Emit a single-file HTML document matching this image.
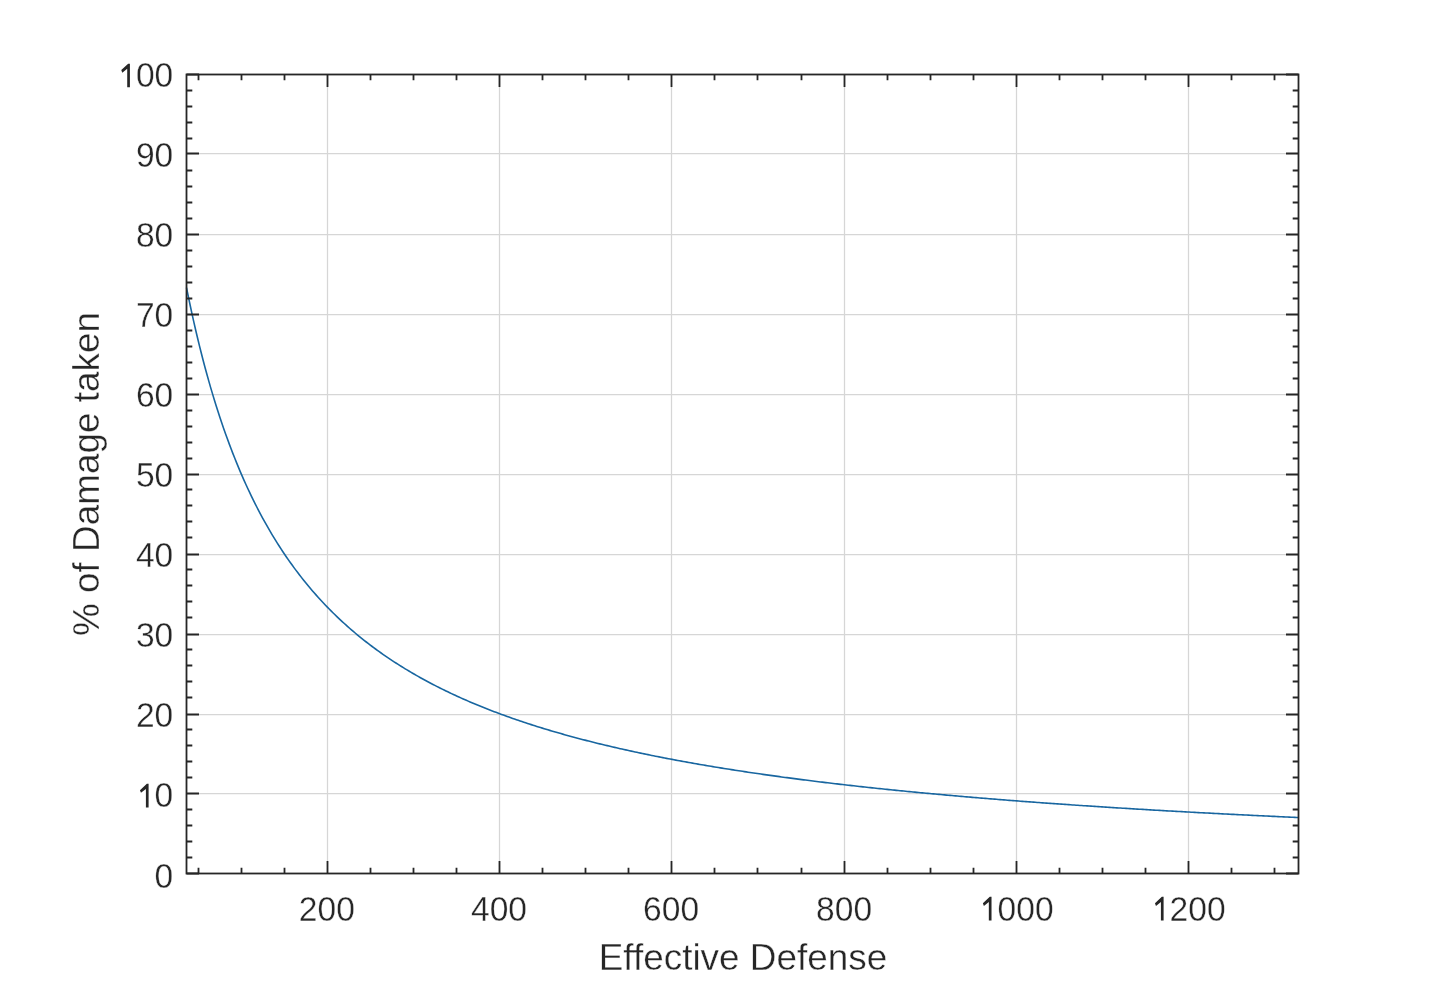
<!DOCTYPE html>
<html><head><meta charset="utf-8"><style>
html,body{margin:0;padding:0;background:#fff;}
body{width:1435px;height:982px;overflow:hidden;font-family:"Liberation Sans",sans-serif;}
svg{position:absolute;left:0;top:0;display:block;will-change:transform;}
</style></head><body>
<svg width="1435" height="982" viewBox="0 0 1435 982">
<path d="M327.50 74.50V873.50M499.50 74.50V873.50M671.50 74.50V873.50M844.50 74.50V873.50M1016.50 74.50V873.50M1188.50 74.50V873.50M186.50 793.50H1298.50M186.50 714.50H1298.50M186.50 634.50H1298.50M186.50 554.50H1298.50M186.50 474.50H1298.50M186.50 394.50H1298.50M186.50 314.50H1298.50M186.50 234.50H1298.50M186.50 153.50H1298.50" stroke="#d6d6d6" stroke-width="1.25" fill="none"/>
<polyline points="186.50,287.60 188.35,296.71 190.21,305.53 192.06,314.09 193.91,322.39 195.77,330.46 197.62,338.28 199.47,345.89 201.33,353.29 203.18,360.47 205.03,367.47 206.89,374.27 208.74,380.90 210.59,387.35 212.45,393.63 214.30,399.76 216.15,405.73 218.01,411.55 219.86,417.22 221.71,422.76 223.57,428.17 225.42,433.45 227.27,438.60 229.13,443.64 230.98,448.56 232.83,453.37 234.69,458.07 236.54,462.67 238.39,467.17 240.25,471.57 242.10,475.87 243.95,480.08 245.81,484.21 247.66,488.25 249.51,492.21 251.37,496.08 253.22,499.88 255.07,503.60 256.93,507.25 258.78,510.83 260.63,514.34 262.49,517.78 264.34,521.16 266.19,524.47 268.05,527.72 269.90,530.91 271.75,534.04 273.61,537.12 275.46,540.14 277.31,543.11 279.17,546.02 281.02,548.89 282.87,551.70 284.73,554.47 286.58,557.18 288.43,559.86 290.29,562.48 292.14,565.07 293.99,567.61 295.85,570.11 297.70,572.57 299.55,574.99 301.41,577.37 303.26,579.71 305.11,582.02 306.97,584.29 308.82,586.53 310.67,588.73 312.53,590.90 314.38,593.03 316.23,595.13 318.09,597.21 319.94,599.25 321.79,601.26 323.65,603.24 325.50,605.19 327.35,607.12 329.21,609.02 331.06,610.89 332.91,612.73 334.77,614.55 336.62,616.34 338.47,618.11 340.33,619.86 342.18,621.58 344.03,623.28 345.89,624.95 347.74,626.61 349.59,628.24 351.45,629.85 353.30,631.44 355.15,633.00 357.01,634.55 358.86,636.08 360.71,637.59 362.57,639.08 364.42,640.55 366.27,642.00 368.13,643.44 369.98,644.85 371.83,646.25 373.69,647.64 375.54,649.00 377.39,650.35 379.25,651.68 381.10,653.00 382.95,654.30 384.81,655.59 386.66,656.86 388.51,658.12 390.37,659.36 392.22,660.59 394.07,661.80 395.93,663.00 397.78,664.19 399.63,665.36 401.49,666.53 403.34,667.67 405.19,668.81 407.05,669.93 408.90,671.04 410.75,672.14 412.61,673.22 414.46,674.30 416.31,675.36 418.17,676.41 420.02,677.46 421.87,678.49 423.73,679.50 425.58,680.51 427.43,681.51 429.29,682.50 431.14,683.48 432.99,684.44 434.85,685.40 436.70,686.35 438.55,687.29 440.41,688.22 442.26,689.14 444.11,690.05 445.97,690.95 447.82,691.84 449.67,692.73 451.53,693.61 453.38,694.47 455.23,695.33 457.09,696.18 458.94,697.03 460.79,697.86 462.65,698.69 464.50,699.51 466.35,700.32 468.21,701.12 470.06,701.92 471.91,702.71 473.77,703.49 475.62,704.27 477.47,705.03 479.33,705.80 481.18,706.55 483.03,707.30 484.89,708.04 486.74,708.77 488.59,709.50 490.45,710.22 492.30,710.94 494.15,711.64 496.01,712.35 497.86,713.04 499.71,713.73 501.57,714.42 503.42,715.10 505.27,715.77 507.13,716.44 508.98,717.10 510.83,717.76 512.69,718.41 514.54,719.05 516.39,719.69 518.25,720.33 520.10,720.96 521.95,721.58 523.81,722.20 525.66,722.81 527.51,723.42 529.37,724.03 531.22,724.63 533.07,725.22 534.93,725.81 536.78,726.40 538.63,726.98 540.49,727.55 542.34,728.12 544.19,728.69 546.05,729.25 547.90,729.81 549.75,730.37 551.61,730.92 553.46,731.46 555.31,732.00 557.17,732.54 559.02,733.07 560.87,733.60 562.73,734.13 564.58,734.65 566.43,735.17 568.29,735.68 570.14,736.19 571.99,736.70 573.85,737.20 575.70,737.70 577.55,738.19 579.41,738.68 581.26,739.17 583.11,739.66 584.97,740.14 586.82,740.61 588.67,741.09 590.53,741.56 592.38,742.03 594.23,742.49 596.09,742.95 597.94,743.41 599.79,743.86 601.65,744.31 603.50,744.76 605.35,745.21 607.21,745.65 609.06,746.09 610.91,746.52 612.77,746.96 614.62,747.39 616.47,747.81 618.33,748.24 620.18,748.66 622.03,749.08 623.89,749.49 625.74,749.90 627.59,750.31 629.45,750.72 631.30,751.13 633.15,751.53 635.01,751.93 636.86,752.33 638.71,752.72 640.57,753.11 642.42,753.50 644.27,753.89 646.13,754.27 647.98,754.65 649.83,755.03 651.69,755.41 653.54,755.78 655.39,756.16 657.25,756.53 659.10,756.89 660.95,757.26 662.81,757.62 664.66,757.98 666.51,758.34 668.37,758.70 670.22,759.05 672.07,759.40 673.93,759.75 675.78,760.10 677.63,760.44 679.49,760.79 681.34,761.13 683.19,761.47 685.05,761.80 686.90,762.14 688.75,762.47 690.61,762.80 692.46,763.13 694.31,763.46 696.17,763.79 698.02,764.11 699.87,764.43 701.73,764.75 703.58,765.07 705.43,765.38 707.29,765.70 709.14,766.01 710.99,766.32 712.85,766.63 714.70,766.93 716.55,767.24 718.41,767.54 720.26,767.84 722.11,768.14 723.97,768.44 725.82,768.74 727.67,769.03 729.53,769.33 731.38,769.62 733.23,769.91 735.09,770.20 736.94,770.48 738.79,770.77 740.65,771.05 742.50,771.33 744.35,771.61 746.21,771.89 748.06,772.17 749.91,772.45 751.77,772.72 753.62,772.99 755.47,773.26 757.33,773.53 759.18,773.80 761.03,774.07 762.89,774.34 764.74,774.60 766.59,774.86 768.45,775.12 770.30,775.38 772.15,775.64 774.01,775.90 775.86,776.16 777.71,776.41 779.57,776.66 781.42,776.92 783.27,777.17 785.13,777.42 786.98,777.66 788.83,777.91 790.69,778.16 792.54,778.40 794.39,778.64 796.25,778.88 798.10,779.13 799.95,779.36 801.81,779.60 803.66,779.84 805.51,780.08 807.37,780.31 809.22,780.54 811.07,780.78 812.93,781.01 814.78,781.24 816.63,781.47 818.49,781.69 820.34,781.92 822.19,782.14 824.05,782.37 825.90,782.59 827.75,782.81 829.61,783.04 831.46,783.25 833.31,783.47 835.17,783.69 837.02,783.91 838.87,784.12 840.73,784.34 842.58,784.55 844.43,784.76 846.29,784.98 848.14,785.19 849.99,785.40 851.85,785.61 853.70,785.81 855.55,786.02 857.41,786.23 859.26,786.43 861.11,786.63 862.97,786.84 864.82,787.04 866.67,787.24 868.53,787.44 870.38,787.64 872.23,787.84 874.09,788.03 875.94,788.23 877.79,788.43 879.65,788.62 881.50,788.81 883.35,789.01 885.21,789.20 887.06,789.39 888.91,789.58 890.77,789.77 892.62,789.96 894.47,790.14 896.33,790.33 898.18,790.52 900.03,790.70 901.89,790.89 903.74,791.07 905.59,791.25 907.45,791.43 909.30,791.62 911.15,791.80 913.01,791.98 914.86,792.15 916.71,792.33 918.57,792.51 920.42,792.68 922.27,792.86 924.13,793.04 925.98,793.21 927.83,793.38 929.69,793.56 931.54,793.73 933.39,793.90 935.25,794.07 937.10,794.24 938.95,794.41 940.81,794.57 942.66,794.74 944.51,794.91 946.37,795.08 948.22,795.24 950.07,795.41 951.93,795.57 953.78,795.73 955.63,795.89 957.49,796.06 959.34,796.22 961.19,796.38 963.05,796.54 964.90,796.70 966.75,796.86 968.61,797.01 970.46,797.17 972.31,797.33 974.17,797.48 976.02,797.64 977.87,797.79 979.73,797.95 981.58,798.10 983.43,798.25 985.29,798.41 987.14,798.56 988.99,798.71 990.85,798.86 992.70,799.01 994.55,799.16 996.41,799.31 998.26,799.45 1000.11,799.60 1001.97,799.75 1003.82,799.90 1005.67,800.04 1007.53,800.19 1009.38,800.33 1011.23,800.47 1013.09,800.62 1014.94,800.76 1016.79,800.90 1018.65,801.04 1020.50,801.19 1022.35,801.33 1024.21,801.47 1026.06,801.61 1027.91,801.74 1029.77,801.88 1031.62,802.02 1033.47,802.16 1035.33,802.30 1037.18,802.43 1039.03,802.57 1040.89,802.70 1042.74,802.84 1044.59,802.97 1046.45,803.11 1048.30,803.24 1050.15,803.37 1052.01,803.50 1053.86,803.64 1055.71,803.77 1057.57,803.90 1059.42,804.03 1061.27,804.16 1063.13,804.29 1064.98,804.42 1066.83,804.54 1068.69,804.67 1070.54,804.80 1072.39,804.93 1074.25,805.05 1076.10,805.18 1077.95,805.30 1079.81,805.43 1081.66,805.55 1083.51,805.68 1085.37,805.80 1087.22,805.92 1089.07,806.05 1090.93,806.17 1092.78,806.29 1094.63,806.41 1096.49,806.53 1098.34,806.65 1100.19,806.77 1102.05,806.89 1103.90,807.01 1105.75,807.13 1107.61,807.25 1109.46,807.37 1111.31,807.49 1113.17,807.60 1115.02,807.72 1116.87,807.84 1118.73,807.95 1120.58,808.07 1122.43,808.18 1124.29,808.30 1126.14,808.41 1127.99,808.53 1129.85,808.64 1131.70,808.75 1133.55,808.87 1135.41,808.98 1137.26,809.09 1139.11,809.20 1140.97,809.31 1142.82,809.42 1144.67,809.53 1146.53,809.64 1148.38,809.75 1150.23,809.86 1152.09,809.97 1153.94,810.08 1155.79,810.19 1157.65,810.30 1159.50,810.40 1161.35,810.51 1163.21,810.62 1165.06,810.72 1166.91,810.83 1168.77,810.94 1170.62,811.04 1172.47,811.15 1174.33,811.25 1176.18,811.35 1178.03,811.46 1179.89,811.56 1181.74,811.67 1183.59,811.77 1185.45,811.87 1187.30,811.97 1189.15,812.07 1191.01,812.18 1192.86,812.28 1194.71,812.38 1196.57,812.48 1198.42,812.58 1200.27,812.68 1202.13,812.78 1203.98,812.88 1205.83,812.98 1207.69,813.07 1209.54,813.17 1211.39,813.27 1213.25,813.37 1215.10,813.47 1216.95,813.56 1218.81,813.66 1220.66,813.75 1222.51,813.85 1224.37,813.95 1226.22,814.04 1228.07,814.14 1229.93,814.23 1231.78,814.33 1233.63,814.42 1235.49,814.51 1237.34,814.61 1239.19,814.70 1241.05,814.79 1242.90,814.89 1244.75,814.98 1246.61,815.07 1248.46,815.16 1250.31,815.25 1252.17,815.35 1254.02,815.44 1255.87,815.53 1257.73,815.62 1259.58,815.71 1261.43,815.80 1263.29,815.89 1265.14,815.98 1266.99,816.07 1268.85,816.15 1270.70,816.24 1272.55,816.33 1274.41,816.42 1276.26,816.51 1278.11,816.59 1279.97,816.68 1281.82,816.77 1283.67,816.85 1285.53,816.94 1287.38,817.03 1289.23,817.11 1291.09,817.20 1292.94,817.28 1294.79,817.37 1296.65,817.45 1298.50,817.54" stroke="#1866a0" stroke-width="1.6" fill="none" stroke-linejoin="round"/>
<path d="M198.50 873.50v-5.80M198.50 74.50v5.80M241.50 873.50v-5.80M241.50 74.50v5.80M284.50 873.50v-5.80M284.50 74.50v5.80M327.50 873.50v-12.50M327.50 74.50v12.50M370.50 873.50v-5.80M370.50 74.50v5.80M413.50 873.50v-5.80M413.50 74.50v5.80M456.50 873.50v-5.80M456.50 74.50v5.80M499.50 873.50v-12.50M499.50 74.50v12.50M542.50 873.50v-5.80M542.50 74.50v5.80M585.50 873.50v-5.80M585.50 74.50v5.80M628.50 873.50v-5.80M628.50 74.50v5.80M671.50 873.50v-12.50M671.50 74.50v12.50M714.50 873.50v-5.80M714.50 74.50v5.80M757.50 873.50v-5.80M757.50 74.50v5.80M801.50 873.50v-5.80M801.50 74.50v5.80M844.50 873.50v-12.50M844.50 74.50v12.50M887.50 873.50v-5.80M887.50 74.50v5.80M930.50 873.50v-5.80M930.50 74.50v5.80M973.50 873.50v-5.80M973.50 74.50v5.80M1016.50 873.50v-12.50M1016.50 74.50v12.50M1059.50 873.50v-5.80M1059.50 74.50v5.80M1102.50 873.50v-5.80M1102.50 74.50v5.80M1145.50 873.50v-5.80M1145.50 74.50v5.80M1188.50 873.50v-12.50M1188.50 74.50v12.50M1231.50 873.50v-5.80M1231.50 74.50v5.80M1274.50 873.50v-5.80M1274.50 74.50v5.80M186.50 857.50h5.80M1298.50 857.50h-5.80M186.50 841.50h5.80M1298.50 841.50h-5.80M186.50 825.50h5.80M1298.50 825.50h-5.80M186.50 809.50h5.80M1298.50 809.50h-5.80M186.50 793.50h12.50M1298.50 793.50h-12.50M186.50 777.50h5.80M1298.50 777.50h-5.80M186.50 761.50h5.80M1298.50 761.50h-5.80M186.50 745.50h5.80M1298.50 745.50h-5.80M186.50 729.50h5.80M1298.50 729.50h-5.80M186.50 714.50h12.50M1298.50 714.50h-12.50M186.50 697.50h5.80M1298.50 697.50h-5.80M186.50 681.50h5.80M1298.50 681.50h-5.80M186.50 665.50h5.80M1298.50 665.50h-5.80M186.50 649.50h5.80M1298.50 649.50h-5.80M186.50 634.50h12.50M1298.50 634.50h-12.50M186.50 617.50h5.80M1298.50 617.50h-5.80M186.50 601.50h5.80M1298.50 601.50h-5.80M186.50 585.50h5.80M1298.50 585.50h-5.80M186.50 569.50h5.80M1298.50 569.50h-5.80M186.50 554.50h12.50M1298.50 554.50h-12.50M186.50 537.50h5.80M1298.50 537.50h-5.80M186.50 521.50h5.80M1298.50 521.50h-5.80M186.50 505.50h5.80M1298.50 505.50h-5.80M186.50 489.50h5.80M1298.50 489.50h-5.80M186.50 474.50h12.50M1298.50 474.50h-12.50M186.50 458.50h5.80M1298.50 458.50h-5.80M186.50 442.50h5.80M1298.50 442.50h-5.80M186.50 426.50h5.80M1298.50 426.50h-5.80M186.50 410.50h5.80M1298.50 410.50h-5.80M186.50 394.50h12.50M1298.50 394.50h-12.50M186.50 378.50h5.80M1298.50 378.50h-5.80M186.50 362.50h5.80M1298.50 362.50h-5.80M186.50 346.50h5.80M1298.50 346.50h-5.80M186.50 330.50h5.80M1298.50 330.50h-5.80M186.50 314.50h12.50M1298.50 314.50h-12.50M186.50 298.50h5.80M1298.50 298.50h-5.80M186.50 282.50h5.80M1298.50 282.50h-5.80M186.50 266.50h5.80M1298.50 266.50h-5.80M186.50 250.50h5.80M1298.50 250.50h-5.80M186.50 234.50h12.50M1298.50 234.50h-12.50M186.50 218.50h5.80M1298.50 218.50h-5.80M186.50 202.50h5.80M1298.50 202.50h-5.80M186.50 186.50h5.80M1298.50 186.50h-5.80M186.50 170.50h5.80M1298.50 170.50h-5.80M186.50 153.50h12.50M1298.50 153.50h-12.50M186.50 138.50h5.80M1298.50 138.50h-5.80M186.50 122.50h5.80M1298.50 122.50h-5.80M186.50 106.50h5.80M1298.50 106.50h-5.80M186.50 90.50h5.80M1298.50 90.50h-5.80M186.50 873.50h12.50M1298.50 873.50h-12.50M186.50 74.50h12.50M1298.50 74.50h-12.50" stroke="#262626" stroke-width="1.8" fill="none"/>
<rect x="186.50" y="74.50" width="1112.00" height="799.00" stroke="#262626" stroke-width="1.8" fill="none"/>
<g font-family="Liberation Sans" font-size="33.6" fill="#262626" stroke="#fff" stroke-width="0.35"><text transform="translate(154.61,887.50) scale(1,1.035)">0</text><path transform="translate(135.93,807.48) scale(33.600,-34.776)" d="M0.377 0L0.297 0L0.297 0.53L0.150 0.42L0.120 0.495L0.325 0.68L0.377 0.68Z" stroke="none"/><text transform="translate(154.61,807.48) scale(1,1.035)">0</text><text transform="translate(135.93,727.46) scale(1,1.035)">2</text><text transform="translate(154.61,727.46) scale(1,1.035)">0</text><text transform="translate(135.93,647.44) scale(1,1.035)">3</text><text transform="translate(154.61,647.44) scale(1,1.035)">0</text><text transform="translate(135.93,567.42) scale(1,1.035)">4</text><text transform="translate(154.61,567.42) scale(1,1.035)">0</text><text transform="translate(135.93,487.40) scale(1,1.035)">5</text><text transform="translate(154.61,487.40) scale(1,1.035)">0</text><text transform="translate(135.93,407.38) scale(1,1.035)">6</text><text transform="translate(154.61,407.38) scale(1,1.035)">0</text><text transform="translate(135.93,327.36) scale(1,1.035)">7</text><text transform="translate(154.61,327.36) scale(1,1.035)">0</text><text transform="translate(135.93,247.34) scale(1,1.035)">8</text><text transform="translate(154.61,247.34) scale(1,1.035)">0</text><text transform="translate(135.93,167.32) scale(1,1.035)">9</text><text transform="translate(154.61,167.32) scale(1,1.035)">0</text><path transform="translate(117.24,87.30) scale(33.600,-34.776)" d="M0.377 0L0.297 0L0.297 0.53L0.150 0.42L0.120 0.495L0.325 0.68L0.377 0.68Z" stroke="none"/><text transform="translate(135.93,87.30) scale(1,1.035)">0</text><text transform="translate(154.61,87.30) scale(1,1.035)">0</text><text transform="translate(298.87,920.50) scale(1,1.035)">2</text><text transform="translate(317.56,920.50) scale(1,1.035)">0</text><text transform="translate(336.24,920.50) scale(1,1.035)">0</text><text transform="translate(470.95,920.50) scale(1,1.035)">4</text><text transform="translate(489.64,920.50) scale(1,1.035)">0</text><text transform="translate(508.32,920.50) scale(1,1.035)">0</text><text transform="translate(643.03,920.50) scale(1,1.035)">6</text><text transform="translate(661.72,920.50) scale(1,1.035)">0</text><text transform="translate(680.40,920.50) scale(1,1.035)">0</text><text transform="translate(816.11,920.50) scale(1,1.035)">8</text><text transform="translate(834.80,920.50) scale(1,1.035)">0</text><text transform="translate(853.48,920.50) scale(1,1.035)">0</text><path transform="translate(978.85,920.50) scale(33.600,-34.776)" d="M0.377 0L0.297 0L0.297 0.53L0.150 0.42L0.120 0.495L0.325 0.68L0.377 0.68Z" stroke="none"/><text transform="translate(997.53,920.50) scale(1,1.035)">0</text><text transform="translate(1016.22,920.50) scale(1,1.035)">0</text><text transform="translate(1034.91,920.50) scale(1,1.035)">0</text><path transform="translate(1150.93,920.50) scale(33.600,-34.776)" d="M0.377 0L0.297 0L0.297 0.53L0.150 0.42L0.120 0.495L0.325 0.68L0.377 0.68Z" stroke="none"/><text transform="translate(1169.61,920.50) scale(1,1.035)">2</text><text transform="translate(1188.30,920.50) scale(1,1.035)">0</text><text transform="translate(1206.99,920.50) scale(1,1.035)">0</text></g>
<g font-family="Liberation Sans" font-size="36.9" fill="#262626" stroke="#fff" stroke-width="0.35"><text x="743.00" y="969.80" text-anchor="middle">Effective Defense</text><text transform="translate(99.40,474.00) rotate(-90)" x="0" y="0" text-anchor="middle">% of Damage taken</text></g>
<rect x="633" y="950.4" width="1" height="1.9" fill="#262626"/>
</svg>
</body></html>
